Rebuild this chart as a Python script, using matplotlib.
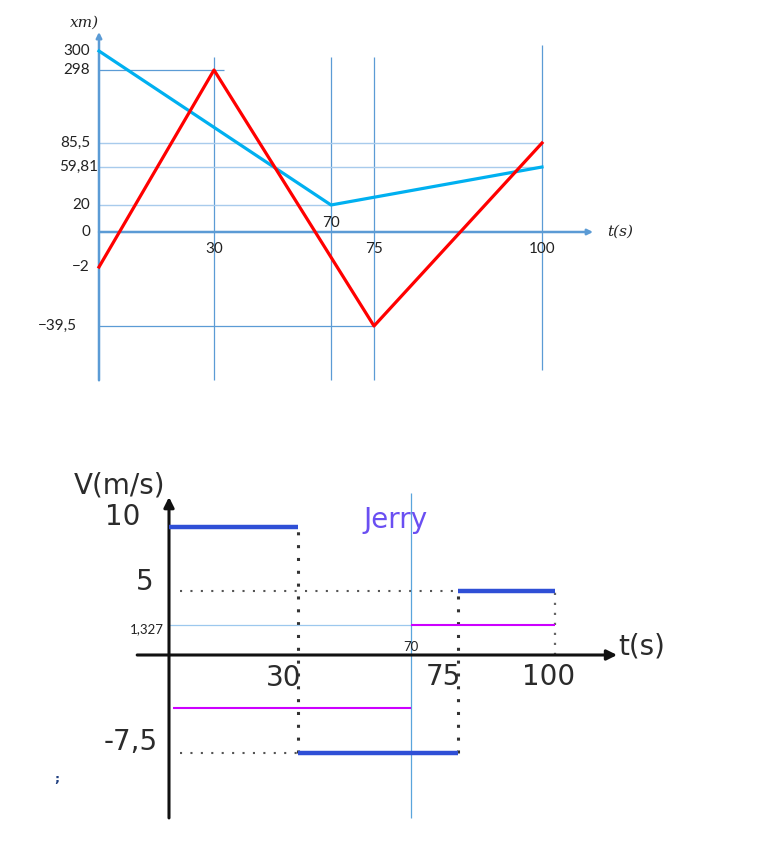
import numpy as np
import matplotlib
matplotlib.use("Agg")
import matplotlib.pyplot as plt

W, H = 768, 866

# position-time data (Tom = red, Jerry = light blue)
t_tom = [0, 30, 75, 100]
x_tom = [-2, 298, -39.5, 85.5]
t_jerry = [0, 70, 100]
x_jerry = [300, 20, 59.81]

# velocity-time data (steps)
vt_tom_start = [0, 30, 75]
vt_tom_end = [30, 75, 100]
v_tom = [10, -7.5, 5]
vt_jerry_start = [0, 70]
vt_jerry_end = [70, 100]
v_jerry = [-4, 1.327]

# tick labels
top_xticks = [30, 70, 75, 100]
top_yticks = [300, 298, 85.5, 59.81, 20, 0, -2, -39.5]
top_ylabels = ["300", "298", "85,5", "59,81", "20", "0", "\u22122", "\u221239,5"]
bot_xticks = [30, 75, 100]
bot_yticks = [10, 5, 1.327, -7.5]
bot_ylabels = ["10", "5", "1,327", "-7,5"]

# the hand drawn axes are not to scale: pixel anchors for each axis
top_t_anchor = [0, 30, 70, 75, 100]
top_t_px = [99, 214, 331, 374, 542]
top_x_anchor = [-39.5, -2, 0, 20, 59.81, 85.5, 298, 300]
top_x_px = [326, 267, 232, 205, 167, 143, 70, 51]
bot_t_anchor = [0, 30, 70, 75, 100]
bot_t_px = [169, 298, 411, 458, 555]
bot_v_anchor = [-7.5, -4, 0, 1.327, 5, 10]
bot_v_px = [753, 708, 655, 625, 591, 527]


def piecewise(vals, px):
    v0 = np.asarray(vals, float)
    p0 = np.asarray(px, float)

    def fwd(v):
        v = np.asarray(v, float)
        out = np.interp(v, v0, p0)
        lo = p0[0] + (v - v0[0]) * (p0[1] - p0[0]) / (v0[1] - v0[0])
        hi = p0[-1] + (v - v0[-1]) * (p0[-1] - p0[-2]) / (v0[-1] - v0[-2])
        return np.where(v < v0[0], lo, np.where(v > v0[-1], hi, out))

    def inv(p):
        p = np.asarray(p, float)
        out = np.interp(p, p0, v0)
        lo = v0[0] + (p - p0[0]) * (v0[1] - v0[0]) / (p0[1] - p0[0])
        hi = v0[-1] + (p - p0[-1]) * (v0[-1] - v0[-2]) / (p0[-1] - p0[-2])
        return np.where(p < p0[0], lo, np.where(p > p0[-1], hi, out))

    return fwd, inv


def setup(ax, tv, tp, yv, yp):
    fx = piecewise(tv, tp)
    fy = piecewise(yv, [H - p for p in yp])
    ax.set_xscale("function", functions=fx)
    ax.set_yscale("function", functions=fy)
    ax.set_xlim(float(fx[1](0)), float(fx[1](W)))
    ax.set_ylim(float(fy[1](0)), float(fy[1](H)))
    ax.set_facecolor("none")
    ax.axis("off")


plt.rcParams["font.family"] = "DejaVu Sans"
fig = plt.figure(figsize=(W / 100, H / 100), dpi=100)

# ---------------- top: x(t) ----------------
ax1 = fig.add_axes([0, 0, 1, 1])
setup(ax1, top_t_anchor, top_t_px, top_x_anchor, top_x_px)

grid_c = "#5b9bd5"
faint_c = "#a8cbec"
ax1.vlines([30, 70, 75], -74, 299.4, color=grid_c, lw=0.9)
ax1.vlines(100, -67.5, 300.6, color=grid_c, lw=0.9)
ax1.hlines(298, 0, 33.5, color=grid_c, lw=0.9)
ax1.hlines(-39.5, 0, 75, color=grid_c, lw=0.9)
ax1.hlines([85.5, 59.81], 0, 100, color=faint_c, lw=1.0)
ax1.hlines(20, 0, 70, color=faint_c, lw=1.0)

arrow_kw = dict(arrowstyle="-|>", color=grid_c, lw=1.8, mutation_scale=8,
                shrinkA=0, shrinkB=0)
ax1.annotate("", xy=(0, 302), xytext=(0, -74), arrowprops=arrow_kw)
ax1.annotate("", xy=(107.6, 0), xytext=(0, 0), arrowprops=arrow_kw)

ax1.plot(t_tom, x_tom, color="#ff0000", lw=2.3, zorder=4)
ax1.plot(t_jerry, x_jerry, color="#00b0f0", lw=2.3, zorder=3)

lab_kw = dict(textcoords="offset pixels", fontsize=11, family="Lato",
              color="#222222", va="center")
for v, s in zip(top_yticks, top_ylabels):
    dx = -22 if v == -39.5 else -9
    if v == 59.81:
        dx = -1
    ax1.annotate(s, (0, v), xytext=(dx, 0), ha="right", **lab_kw)
for t in top_xticks:
    dy = 9 if t == 70 else -17
    ax1.annotate(str(t), (t, 0), xytext=(0, dy), ha="center", **lab_kw)

ax1.annotate("xm)", (0, 302), xytext=(-14, 9), textcoords="offset pixels",
             ha="center", va="center", fontsize=11, family="DejaVu Serif",
             style="italic", color="#222222")
ax1.annotate("t(s)", (107.6, 0), xytext=(27, 0), textcoords="offset pixels",
             ha="center", va="center", fontsize=11, family="DejaVu Serif",
             style="italic", color="#222222")

# ---------------- bottom: v(t) ----------------
ax2 = fig.add_axes([0, 0, 1, 1])
setup(ax2, bot_t_anchor, bot_t_px, bot_v_anchor, bot_v_px)

dot_kw = dict(color="#333333", lw=2.2, linestyles=(0, (1, 3.2)))
for i in range(len(v_tom) - 1):
    ax2.vlines(vt_tom_end[i], min(v_tom[i], v_tom[i + 1]),
               max(v_tom[i], v_tom[i + 1]), **dot_kw)
ax2.vlines(vt_tom_end[-1], 0, v_tom[-1], color="#666666", lw=1.6,
           linestyles=(0, (1, 3.5)))
ax2.hlines(v_tom[2], 2.5, vt_tom_start[2], color="#555555", lw=1.5,
           linestyles=(0, (1, 4)))
ax2.hlines(v_tom[1], 2.5, vt_tom_start[1], color="#555555", lw=1.5,
           linestyles=(0, (1, 4)))

ax2.hlines(v_jerry[1], 0, vt_jerry_start[1], color="#9cc8ee", lw=0.9)
ax2.vlines(70, -12.55, 12.66, color="#5aa5dc", lw=0.9)

ax2.hlines(v_tom, vt_tom_start, vt_tom_end, color="#2f4fd6", lw=3.2, zorder=4)
ax2.hlines(v_jerry, [1] + vt_jerry_start[1:], vt_jerry_end, color="#cc00ff",
           lw=1.5, zorder=4)

black_kw = dict(arrowstyle="-|>", color="#111111", lw=2.2, mutation_scale=15,
                shrinkA=0, shrinkB=0)
ax2.annotate("", xy=(0, 12.34), xytext=(0, -12.55), arrowprops=black_kw)
ax2.annotate("", xy=(116, 0), xytext=(-7.4, 0), arrowprops=black_kw)

big_kw = dict(textcoords="offset pixels", fontsize=20, color="#2b2b2b",
              va="center")
ax2.annotate("V(m/s)", (0, 12.34), xytext=(-49, 12), ha="center", **big_kw)
ax2.annotate("t(s)", (116, 0), xytext=(25, 8), ha="center", **big_kw)
yl_off = {10: (-29, 10), 5: (-16, 9), -7.5: (-11, 11)}
for v, s in zip(bot_yticks, bot_ylabels):
    if v == 1.327:
        ax2.annotate(s, (0, v), xytext=(-5, -4), textcoords="offset pixels",
                     ha="right", va="center", fontsize=9.5, family="Lato",
                     color="#222222")
    else:
        ax2.annotate(s, (0, v), xytext=yl_off[v], ha="right", **big_kw)
xl_off = {30: (-14, -23), 75: (-15, -22), 100: (-6, -22)}
for t in bot_xticks:
    ax2.annotate(str(t), (t, 0), xytext=xl_off[t], ha="center", **big_kw)
ax2.annotate("70", (70, 0), xytext=(0, 8), textcoords="offset pixels",
             ha="center", va="center", fontsize=9.5, family="Lato",
             color="#222222")
ax2.annotate("Jerry", (70, 10), xytext=(-16, 7), textcoords="offset pixels",
             ha="center", va="center", fontsize=20, color="#6a4ff2")

fig.text(57 / W, 1 - 779 / H, ";", fontsize=9, color="#1f3f80",
         ha="center", va="center", fontweight="bold")

fig.savefig("out.png", dpi=100)
